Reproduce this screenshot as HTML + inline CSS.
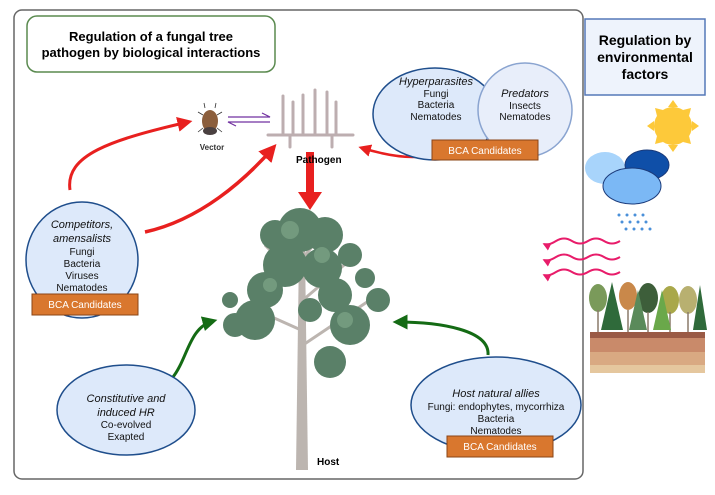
<!DOCTYPE html>
<html><head><meta charset="utf-8"><style>
body{margin:0;width:715px;height:490px;background:#fff;font-family:"Liberation Sans",sans-serif;overflow:hidden}
</style></head><body>
<svg width="715" height="490" viewBox="0 0 715 490" xmlns="http://www.w3.org/2000/svg" font-family="Liberation Sans, sans-serif">
<defs>
<marker id="rh" viewBox="0 0 10 10" refX="7" refY="5" markerWidth="5" markerHeight="5" orient="auto"><path d="M0,0L10,5L0,10z" fill="#e8201f"/></marker>
<marker id="gh" viewBox="0 0 10 10" refX="7" refY="5" markerWidth="5" markerHeight="5" orient="auto"><path d="M0,0L10,5L0,10z" fill="#146b14"/></marker>
<marker id="ph" viewBox="0 0 10 10" refX="8" refY="5" markerWidth="4" markerHeight="4" orient="auto"><path d="M0,0L10,5L0,10z" fill="#e81c6a"/></marker>
</defs>
<rect x="14" y="10" width="569" height="469" rx="8" fill="#fff" stroke="#666" stroke-width="1.5"/>
<rect x="27" y="16" width="248" height="56" rx="10" fill="#fff" stroke="#5a8a4f" stroke-width="1.5"/>
<text x="151" y="41" font-size="13" font-weight="bold" text-anchor="middle">Regulation of a fungal tree</text>
<text x="151" y="57" font-size="13" font-weight="bold" text-anchor="middle">pathogen by biological interactions</text>
<rect x="585" y="19" width="120" height="76" fill="#eef3fc" stroke="#5578b8" stroke-width="1.5"/>
<text x="645" y="45" font-size="14" font-weight="bold" text-anchor="middle">Regulation by</text>
<text x="645" y="62" font-size="14" font-weight="bold" text-anchor="middle">environmental</text>
<text x="645" y="79" font-size="14" font-weight="bold" text-anchor="middle">factors</text>
<g fill="#fdc93a"><circle cx="673" cy="126" r="19"/>
<path d="M673,100l5,7h-10z M673,152l5,-7h-10z M647,126l7,5v-10z M699,126l-7,5v-10z M655,108l8,2-6,6z M691,108l-8,2 6,6z M655,144l8,-2-6,-6z M691,144l-8,-2 6,-6z"/></g>
<g stroke="#1a3a7a" stroke-width="1"><ellipse cx="605" cy="168" rx="20" ry="16" fill="#a8d4fb" stroke="none"/>
<ellipse cx="647" cy="165" rx="22" ry="15" fill="#0f4fa8"/>
<ellipse cx="632" cy="186" rx="29" ry="18" fill="#7bb8f5"/></g>
<g fill="#4a90d9"><circle cx="619" cy="215" r="1.5"/><circle cx="627" cy="215" r="1.5"/><circle cx="635" cy="215" r="1.5"/><circle cx="643" cy="215" r="1.5"/>
<circle cx="622" cy="222" r="1.5"/><circle cx="630" cy="222" r="1.5"/><circle cx="638" cy="222" r="1.5"/><circle cx="646" cy="222" r="1.5"/>
<circle cx="626" cy="229" r="1.5"/><circle cx="634" cy="229" r="1.5"/><circle cx="642" cy="229" r="1.5"/><circle cx="650" cy="229" r="1.5"/></g>
<g fill="none" stroke="#e81c6a" stroke-width="2" marker-end="url(#ph)">
<path d="M620,241 q-8,5 -16,0 t-16,0 t-16,0 t-16,0 t-12,3"/>
<path d="M620,257 q-8,5 -16,0 t-16,0 t-16,0 t-16,0 t-12,3"/>
<path d="M620,272 q-8,5 -16,0 t-16,0 t-16,0 t-16,0 t-12,3"/></g>
<rect x="590" y="332" width="115" height="40" fill="#c98a6a"/>
<rect x="590" y="332" width="115" height="6" fill="#9a5a45"/>
<rect x="590" y="352" width="115" height="20" fill="#d9a982"/>
<rect x="590" y="365" width="115" height="8" fill="#e5c79e"/>
<g fill="#7a9a5a"><ellipse cx="598" cy="298" rx="9" ry="14"/><ellipse cx="628" cy="296" rx="9" ry="14" fill="#c9884a"/><ellipse cx="648" cy="298" rx="10" ry="15" fill="#3d5e3a"/><ellipse cx="670" cy="300" rx="9" ry="14" fill="#a9a84a"/><ellipse cx="688" cy="300" rx="9" ry="14" fill="#b8b070"/></g>
<g stroke="#8a7a6a" stroke-width="1.5"><path d="M598,310v22M628,310v22M648,312v20M670,312v20M688,312v20"/></g>
<g fill="#2f6a3a"><path d="M612,282l11,48h-22z"/><path d="M638,290l9,40h-18z" fill="#5a8a5a"/><path d="M662,290l9,40h-18z" fill="#6aa84a"/><path d="M700,285l7,45h-14z"/></g>
<g fill="none" stroke="#e8201f" marker-end="url(#rh)">
<path d="M70,190 C65,155 110,140 188,122" stroke-width="3"/>
<path d="M145,232 C200,220 245,180 273,148" stroke-width="3.5"/>
<path d="M430,155 C410,160 385,155 362,148" stroke-width="2.5"/></g>
<path d="M306,152h8v40h8l-12,18l-12,-18h8z" fill="#e8201f"/>
<g stroke="#7030a0" stroke-width="1.2" fill="none"><path d="M228,117h42l-8,-4"/><path d="M270,122h-42l8,4"/></g>
<ellipse cx="210" cy="121" rx="8" ry="11" fill="#8b5e3c"/><ellipse cx="210" cy="131" rx="7" ry="4" fill="#4a4040"/>
<g stroke="#333" stroke-width="0.8"><path d="M203,115l-5,-3M217,115l5,-3M203,128l-5,4M217,128l5,4M205,108l-1,-5M215,108l1,-5"/></g>
<text x="212" y="150" font-size="8" font-weight="bold" text-anchor="middle" fill="#333">Vector</text>
<g stroke="#bdaeb0" stroke-width="3" stroke-linecap="round" fill="none">
<path d="M268,135H353"/><path d="M283,135V96M293,135V102M303,135V95M315,135V90M327,135V92M336,135V102"/>
<path d="M290,135v12M332,135v12"/></g>
<text x="296" y="163" font-size="10" font-weight="bold">Pathogen</text>
<path d="M296,470L299,250L305,250L308,470z" fill="#bcb5b0"/>
<g stroke="#bcb5b0" stroke-width="3" fill="none"><path d="M301,330L245,305M303,300L350,260M303,345L370,300M301,280L265,245M301,260L330,225"/></g>
<g fill="#5a8068">
<circle cx="300" cy="230" r="22"/><circle cx="325" cy="235" r="18"/><circle cx="275" cy="235" r="15"/>
<circle cx="285" cy="265" r="22"/><circle cx="322" cy="268" r="20"/><circle cx="265" cy="290" r="18"/><circle cx="335" cy="295" r="17"/>
<circle cx="255" cy="320" r="20"/><circle cx="350" cy="325" r="20"/><circle cx="310" cy="310" r="12"/>
<circle cx="235" cy="325" r="12"/><circle cx="230" cy="300" r="8"/><circle cx="378" cy="300" r="12"/><circle cx="330" cy="362" r="16"/><circle cx="350" cy="255" r="12"/><circle cx="365" cy="278" r="10"/></g>
<g fill="#7aa184" opacity="0.8"><circle cx="290" cy="230" r="9"/><circle cx="322" cy="255" r="8"/><circle cx="270" cy="285" r="7"/><circle cx="345" cy="320" r="8"/></g>
<text x="317" y="465" font-size="10" font-weight="bold">Host</text>
<g fill="none" stroke="#146b14" marker-end="url(#gh)">
<path d="M148,392 C190,385 180,330 213,321" stroke-width="3"/>
<path d="M488,355 C490,330 440,322 397,322" stroke-width="3"/></g>
<g stroke="#1f4e8c" stroke-width="1.5" fill="#dde9fa">
<ellipse cx="82" cy="260" rx="56" ry="58"/>
<ellipse cx="126" cy="410" rx="69" ry="45"/>
<ellipse cx="496" cy="405" rx="85" ry="48"/>
<ellipse cx="435" cy="114" rx="62" ry="46"/></g>
<circle cx="525" cy="110" r="47" fill="#e8eefa" stroke="#8aa4d0" stroke-width="1.5"/>
<g font-size="10" text-anchor="middle" fill="#111">
<text x="82" y="228" font-size="11" font-style="italic">Competitors,</text>
<text x="82" y="242" font-size="11" font-style="italic">amensalists</text>
<text x="82" y="255">Fungi</text><text x="82" y="267">Bacteria</text><text x="82" y="279">Viruses</text><text x="82" y="291">Nematodes</text>
<text x="126" y="402" font-size="11" font-style="italic">Constitutive and</text>
<text x="126" y="416" font-size="11" font-style="italic">induced HR</text>
<text x="126" y="428">Co-evolved</text><text x="126" y="440">Exapted</text>
<text x="496" y="397" font-size="11" font-style="italic">Host natural allies</text>
<text x="496" y="410">Fungi: endophytes, mycorrhiza</text><text x="496" y="422">Bacteria</text><text x="496" y="434">Nematodes</text>
<text x="436" y="85" font-size="11" font-style="italic">Hyperparasites</text>
<text x="436" y="97">Fungi</text><text x="436" y="108">Bacteria</text><text x="436" y="120">Nematodes</text>
<text x="525" y="97" font-size="11" font-style="italic">Predators</text>
<text x="525" y="109">Insects</text><text x="525" y="120">Nematodes</text></g>
<g fill="#d9772e" stroke="#8a4416" stroke-width="1">
<rect x="32" y="294" width="106" height="21"/><rect x="432" y="140" width="106" height="20"/><rect x="447" y="436" width="106" height="21"/></g>
<g font-size="10" fill="#fff" text-anchor="middle">
<text x="85" y="308">BCA Candidates</text><text x="485" y="154">BCA Candidates</text><text x="500" y="450">BCA Candidates</text></g>
</svg>
</body></html>
